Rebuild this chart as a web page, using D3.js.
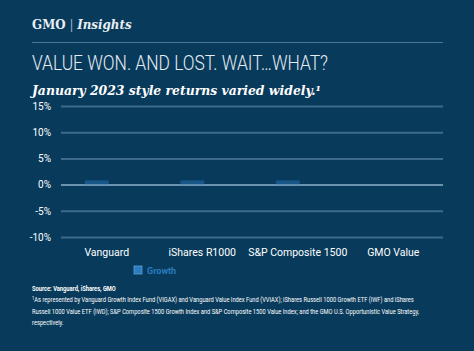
<!DOCTYPE html>
<html>
<head>
<meta charset="utf-8">
<script src="https://cdn.jsdelivr.net/npm/d3@7"></script>
<style>
  html, body { margin: 0; padding: 0; background: #083a5b; }
  svg { display: block; }
</style>
</head>
<body>
<svg id="chart"></svg>
<script>
var categories = ["Vanguard", "iShares R1000", "S&P Composite 1500", "GMO Value"];
var seriesNames = ["Growth", "Value"];
var growth = [0.8, 0.8, 0.8, null];
var value = [null, null, null, null];
var yTicks = [-10, -5, 0, 5, 10, 15];
var notes = [
    "As represented by Vanguard Growth Index Fund (VIGAX) and Vanguard Value Index Fund (VVIAX); iShares Russell 1000 Growth ETF (IWF) and iShares",
    "Russell 1000 Value ETF (IWD); S&P Composite 1500 Growth Index and S&P Composite 1500 Value Index; and the GMO U.S. Opportunistic Value Strategy,",
    "respectively."
];

var width = 474,
    height = 351,
    margin = {"top": 106, "right": 31, "bottom": 114, "left": 61},
    bg = "#083a5b",
    blue = "#2b7dc0";

var svg = d3.select("svg#chart")
    .attr("width", width)
    .attr("height", height);

svg.append("rect")
    .attr("width", width)
    .attr("height", height)
    .attr("fill", bg);

// header
var head = svg.append("text")
    .attr("transform", "translate(32,29) scale(0.88,1)")
    .style("font-family", "'DejaVu Serif', serif")
    .style("font-size", "13.5px")
    .style("fill", "#e8eef3");
head.append("tspan").style("font-weight", "bold").text("GMO");
head.append("tspan").style("fill", "#9fb4c4").text(" | ");
head.append("tspan").style("font-weight", "bold").style("font-style", "italic").text("Insights");

svg.append("line")
    .attr("x1", 32).attr("x2", 443)
    .attr("y1", 42.5).attr("y2", 42.5)
    .attr("stroke", "#4d7693")
    .attr("stroke-width", 1);

svg.append("text")
    .attr("x", 32)
    .attr("y", 70)
    .attr("textLength", 296)
    .attr("lengthAdjust", "spacingAndGlyphs")
    .style("font-family", "Roboto, sans-serif")
    .style("font-weight", 300)
    .style("font-size", "20px")
    .style("fill", "#e6edf3")
    .text("VALUE WON. AND LOST. WAIT\u2026WHAT?");

svg.append("text")
    .attr("x", 32)
    .attr("y", 95)
    .attr("textLength", 289)
    .attr("lengthAdjust", "spacingAndGlyphs")
    .style("font-family", "'DejaVu Serif', serif")
    .style("font-weight", "bold")
    .style("font-style", "italic")
    .style("font-size", "12px")
    .style("fill", "#ffffff")
    .text("January 2023 style returns varied widely.\u00b9");

// chart
var plot_w = width - margin.left - margin.right,
    plot_h = height - margin.top - margin.bottom;

var g = svg.append("g")
    .attr("transform", "translate(" + [margin.left, margin.top] + ")");

var x0 = d3.scaleBand()
    .domain(categories)
    .range([0, plot_w])
    .paddingInner(0.5)
    .paddingOuter(0.25);

var x1 = d3.scaleBand()
    .domain(seriesNames)
    .range([0, x0.bandwidth()]);

var y = d3.scaleLinear()
    .domain([-10, 15])
    .range([plot_h, 0]);

var yAxis = g.append("g")
    .attr("class", "y axis")
    .call(d3.axisLeft(y)
        .tickValues(yTicks)
        .tickSize(-plot_w)
        .tickPadding(10)
        .tickFormat(function(d) { return d + "%"; }));

yAxis.select(".domain").remove();
yAxis.selectAll(".tick line")
    .attr("stroke", function(d) { return d === 0 ? "#6b93ae" : "#3d6b8b"; })
    .attr("stroke-width", 2);
yAxis.selectAll(".tick text")
    .style("font-family", "Roboto, sans-serif")
    .style("font-size", "10px")
    .style("fill", "#ffffff");

var rows = categories.map(function(c, i) {
    return {"category": c, "values": [
        {"series": "Growth", "v": growth[i]},
        {"series": "Value", "v": value[i]}
    ]};
});

var group = g.selectAll("g.cat")
    .data(rows)
    .enter()
    .append("g")
        .attr("class", "cat")
        .attr("transform", function(d) {
            return "translate(" + [x0(d.category), 0] + ")";
        });

group.selectAll("rect")
    .data(function(d) {
        return d.values.filter(function(v) { return v.v !== null; });
    })
    .enter()
    .append("rect")
        .attr("x", function(d) { return x1(d.series); })
        .attr("width", x1.bandwidth())
        .attr("y", function(d) { return y(Math.max(0, d.v)); })
        .attr("height", function(d) { return Math.abs(y(d.v) - y(0)); })
        .attr("fill", blue)
        .attr("fill-opacity", 0.45);

var xAxis = g.append("g")
    .attr("class", "x axis")
    .attr("transform", "translate(" + [-2, plot_h] + ")")
    .call(d3.axisBottom(x0).tickSize(0).tickPadding(12));

xAxis.select(".domain").remove();
xAxis.selectAll(".tick text")
    .style("font-family", "Roboto, sans-serif")
    .style("font-size", "10.5px")
    .style("fill", "#ffffff");

// legend
var legend = svg.append("g")
    .attr("transform", "translate(" + [134, 266] + ")");

legend.append("rect")
    .attr("width", 8)
    .attr("height", 8)
    .attr("fill", blue)
    .attr("stroke", "#5aa0d8")
    .attr("stroke-width", 0.8);

legend.append("text")
    .attr("x", 13)
    .attr("y", 7.5)
    .style("font-family", "Roboto, sans-serif")
    .style("font-weight", "bold")
    .style("font-size", "9px")
    .style("fill", blue)
    .text(seriesNames[0]);

// footer, condensed by a horizontal scale
svg.append("text")
    .attr("transform", "translate(32,291) scale(0.82,1)")
    .style("font-family", "Roboto, sans-serif")
    .style("font-weight", "bold")
    .style("font-size", "7px")
    .style("fill", "#ffffff")
    .text("Source: Vanguard, iShares, GMO");

svg.selectAll("text.note")
    .data(notes)
    .enter()
    .append("text")
        .attr("class", "note")
        .attr("transform", function(d, i) {
            return "translate(" + [32, 302 + i * 11.5] + ") scale(0.82,1)";
        })
        .style("font-family", "Roboto, sans-serif")
        .style("font-size", "7px")
        .style("fill", "#ffffff")
        .each(function(d, i) {
            var t = d3.select(this);
            if (i === 0) {
                t.append("tspan").attr("dy", -2).style("font-size", "5px").text("1");
                t.append("tspan").attr("dy", 2).text(d);
            } else {
                t.text(d);
            }
        });
</script>
</body>
</html>
